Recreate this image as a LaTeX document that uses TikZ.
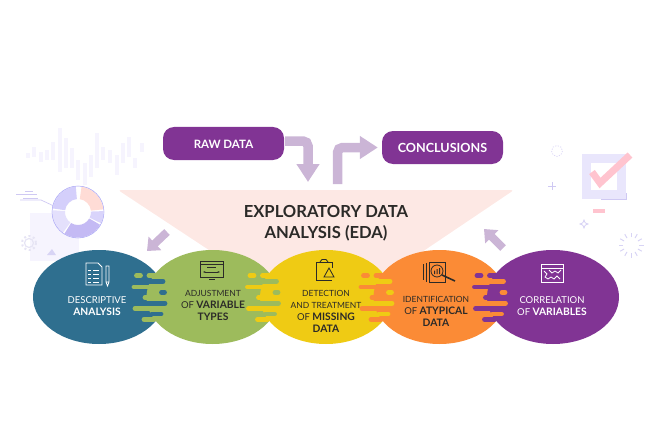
\documentclass[tikz,border=0pt]{standalone}
\usepackage{fontspec}
\setmainfont{Lato}
\usepackage{xcolor}
\usetikzlibrary{arrows.meta,shapes.geometric}
\definecolor{edablue}{HTML}{2F6F8F}
\definecolor{edagreen}{HTML}{9DBB5C}
\definecolor{edayellow}{HTML}{EFCB14}
\definecolor{edaorange}{HTML}{FB8B36}
\definecolor{edapurple}{HTML}{813494}
\definecolor{edaarrow}{HTML}{CBB5D6}
\definecolor{edapink}{HTML}{FDE8E4}
\definecolor{edadark}{HTML}{2B2A28}
\definecolor{faintbar}{HTML}{F6F4FE}
\definecolor{faintbox}{HTML}{E9E6FC}
\definecolor{faintgear}{HTML}{E6E4F4}
\definecolor{faintline}{HTML}{CFC9F3}
\definecolor{checkpink}{HTML}{FFC4CF}
\newcommand{\lite}[1]{{\fontsize{8.5}{12}\selectfont #1}}
\newcommand{\wlite}[1]{{\fontsize{9.5}{12}\selectfont #1}}
\newcommand{\hvy}[1]{{\fontsize{10.3}{12}\selectfont\bfseries #1}}

\begin{document}
\begin{tikzpicture}[x=1pt,y=-1pt,
	blob/.style={ellipse,minimum width=132pt,minimum height=94pt,inner sep=0pt},
	textblob/.style={align=center,inner sep=0pt,font=\fontsize{9}{12}\selectfont},
	startstop/.style={rounded corners=11pt,fill=edapurple,text=white,minimum width=121pt,minimum height=33pt,inner sep=0pt,text height=11pt,text depth=0pt,font=\bfseries},
	bigarrow/.style={draw=edaarrow,line width=9.5pt,rounded corners=5pt,-{Triangle[length=18pt,width=22pt]}},
	smallarrow/.style={draw=edaarrow,line width=8pt,-{Triangle[length=11pt,width=18pt]}},
	tab/.style={line width=4.8pt,line cap=round},
	icon/.style={line width=0.8pt}]
	\useasboundingbox (0,0) rectangle (654,436);

	% faint background, left
	\foreach \bx/\ba/\bb in {28/153/158,34/147/157,41/152/162,47/150/160,53/142/160,60/128/172,66/138/168,72/148/168,78/160/180,85/163/185,91/155/177,97/133/168,103/147/160,110/150/163,117/155/175,123/143/163,129/137/157,135/158/168,142/143/152}
		\draw[faintbar,line width=3.6pt] (\bx,\ba) -- (\bx,\bb);
	\fill[faintbar] (30,213) rectangle (79,261);
	\draw[faintgear,line width=1.2pt] (29,243) circle (4.5);
	\draw[faintgear,line width=2pt,dash pattern=on 2pt off 2.6pt] (29,243) circle (7);
	\fill[faintline!80!white] (47,255) -- (52,249) -- (56,255) -- cycle;
	\draw[faintline,line width=0.7pt] (25,191) -- (33,191) (16,194) -- (37,194) (23,198) -- (38,198);
	\draw[faintline,line width=0.7pt] (20,200) -- (41,200) -- (56,207);
	\begin{scope}[shift={(78,212)},x=1pt,y=1pt]
		\fill[white] (0,0) circle (26);
		\foreach \sa/\sb/\sc in {95/172/D4CFFB,6/82/FFDCD6,-26/2/D9D4FB,-122/-30/C4BAF4,-184/-126/E4E0FC}{
			\definecolor{slicecol}{HTML}{\sc}
			\fill[slicecol] (\sa:25.5) arc[start angle=\sa,end angle=\sb,radius=25.5] -- (\sb:13) arc[start angle=\sb,end angle=\sa,radius=13] -- cycle;}
		\draw[faintline!80!blue,line width=0.5pt] (0,0) circle (26);
	\end{scope}

	% faint background, right
	\draw[faintbox,line width=9pt] (586.5,158.5) rectangle (621,194.5);
	\draw[faintline,line width=0.7pt] (601,199) -- (626,199) -- (626,193);
	\draw[checkpink,line width=7pt] (592,172) -- (600,183) -- (630,155);
	\draw[checkpink,line width=3.4pt] (593,211) -- (605,211);
	\draw[faintline,line width=0.8pt] (548,186) -- (556,186) (552,182) -- (552,190);
	\draw[faintline,line width=0.7pt] (584,220) -- (585.2,222.8) -- (588,224) -- (585.2,225.2) -- (584,228) -- (582.8,225.2) -- (580,224) -- (582.8,222.8) -- cycle;
	\draw[faintline!70!white,line width=0.8pt,dash pattern=on 1.2pt off 1.4pt] (557,151) circle (5.5);
	\foreach \ang in {0,30,...,330}
		\draw[faintline!80!white,line width=1pt] (631,245) ++(\ang:8) -- ++(\ang:4.5);

	% funnel
	\fill[edapink,rounded corners=3pt] (118,190) -- (514,190) -- (318,322) -- cycle;
	\node [inner sep=0pt,align=center,text=edadark,font=\fontsize{16.6}{21.5}\selectfont\bfseries] at (326,223) (edatitle) {EXPLORATORY DATA\\ANALYSIS (EDA)};

	% start and end
	\node [startstop] at (223.5,143.5) (rawdata) {\fontsize{11.5}{14}\selectfont RAW DATA};
	\node [startstop] at (442.5,147.5) (conclusions) {\fontsize{12.6}{14}\selectfont CONCLUSIONS};
	\coordinate (rawin) at (308,182);
	\coordinate (conclout) at (337.5,184);
	\coordinate (descin) at (147,251);
	\coordinate (descout) at (167,232);
	\coordinate (corrin) at (484,229);
	\coordinate (corrout) at (503,248);
	\draw[bigarrow] ([yshift=2.5pt,xshift=1pt]rawdata.east) -| (rawin);
	\draw[bigarrow] (conclout) |- ([xshift=-4pt]conclusions.west);
	\draw[smallarrow] (descout) -- (descin);
	\draw[smallarrow] (corrout) -- (corrin);

	% steps
	\node [blob,fill=edablue] at (99,297) (descriptive) {};
	\node [blob,fill=edagreen] at (212.5,297) (adjustment) {};
	\node [blob,fill=edayellow] at (326,297) (detection) {};
	\node [blob,fill=edaorange] at (439.5,297) (identification) {};
	\node [blob,fill=edapurple] at (553,297) (correlation) {};

	\foreach \off/\cl/\cr in {0/edablue/edagreen,113.5/edagreen/edayellow,227/edayellow/edaorange,340.5/edaorange/edapurple}{
		\begin{scope}[xshift=\off pt]
			\draw[tab,\cr] (136.5,275.7) -- (140.5,275.7);
			\draw[tab,\cr] (149,275.7) -- (158,275.7);
			\draw[tab,\cl] (149,281.3) -- (163,281.3);
			\draw[tab,\cr] (134,287) -- (151,287);
			\draw[tab,\cl] (161.5,292.3) -- (164.5,292.3);
			\draw[tab,\cr] (145,297.7) -- (158,297.7);
			\draw[tab,\cl] (147,303.3) -- (165,303.3);
			\draw[tab,\cr] (135,308.7) -- (154,308.7);
			\draw[tab,\cl] (152,314) -- (161,314);
			\draw[tab,\cr] (144,319.3) -- (154,319.3);
		\end{scope}}

	\node [textblob,text=white] at (97,306) (desctext) {\wlite{DESCRIPTIVE}\\\hvy{ANALYSIS}};
	\node [textblob,text=edadark] at (213,305) (adjtext) {\lite{ADJUSTMENT}\\\wlite{OF} \hvy{VARIABLE}\\\hvy{TYPES}};
	\node [textblob,text=edadark] at (326,311) (dettext) {\lite{DETECTION}\\\lite{AND TREATMENT}\\\wlite{OF} \hvy{MISSING}\\\hvy{DATA}};
	\node [textblob,text=edadark] at (436,311) (idtext) {\lite{IDENTIFICATION}\\\wlite{OF} \hvy{ATYPICAL}\\\hvy{DATA}};
	\node [textblob,text=white] at (552,306) (cortext) {\wlite{CORRELATION}\\\wlite{OF} \hvy{VARIABLES}};

	% icons
	\draw[icon,white] (86,263) -- (98,263) -- (102,267) -- (102,285) -- (86,285) -- cycle;
	\draw[icon,white] (93,270) -- (99,270) (93,274) -- (99,274) (93,278) -- (99,278) (93,282) -- (99,282);
	\draw[icon,white] (88,270) -- (91,270) (88,274) -- (91,274) (88,278) -- (91,278) (88,282) -- (91,282);
	\draw[icon,white] (106,266) rectangle (109,282) (106,282) -- (107.5,286) -- (109,282);
	\draw[icon,edadark,line width=1pt] (200,261) rectangle (223,277);
	\draw[icon,edadark] (200,264) -- (223,264) (207,267) -- (216,267) (209,279) -- (215,279);
	\draw[icon,edadark,{Stealth[length=2.5pt]}-{Stealth[length=2.5pt]}] (203,272) -- (220,272);
	\draw[icon,edadark] (316,262) -- (316,280) -- (332,280) (332,268) -- (332,262) -- (316,262);
	\draw[icon,edadark] (320,262) -- (322,259.5) -- (326,259.5) -- (328,262);
	\draw[icon,edadark,fill=edayellow] (329,268) -- (334,277) -- (324,277) -- cycle;
	\draw[icon,edadark] (423,264) -- (423,280) (426,263) -- (426,282) (429,262) rectangle (445,282);
	\draw[icon,edadark,fill=edaorange] (437,271) circle (6);
	\fill[edadark] (434,270.5) rectangle (435,274) (436.5,269) rectangle (437.5,274) (439,268) rectangle (440,274);
	\draw[icon,edadark,line width=1.6pt] (442,275) -- (455,281);
	\draw[icon,white] (541,264) rectangle (563,282) (541,268) -- (563,268);
	\draw[icon,white] (544,271) -- (547,274) -- (545,277) -- (548,279) -- (551,277) -- (554,279) -- (557,276) -- (560,279);
	\draw[icon,white] (549,270) -- (552,273) -- (555,271) -- (558,273) -- (561,270);
\end{tikzpicture}
\end{document}
